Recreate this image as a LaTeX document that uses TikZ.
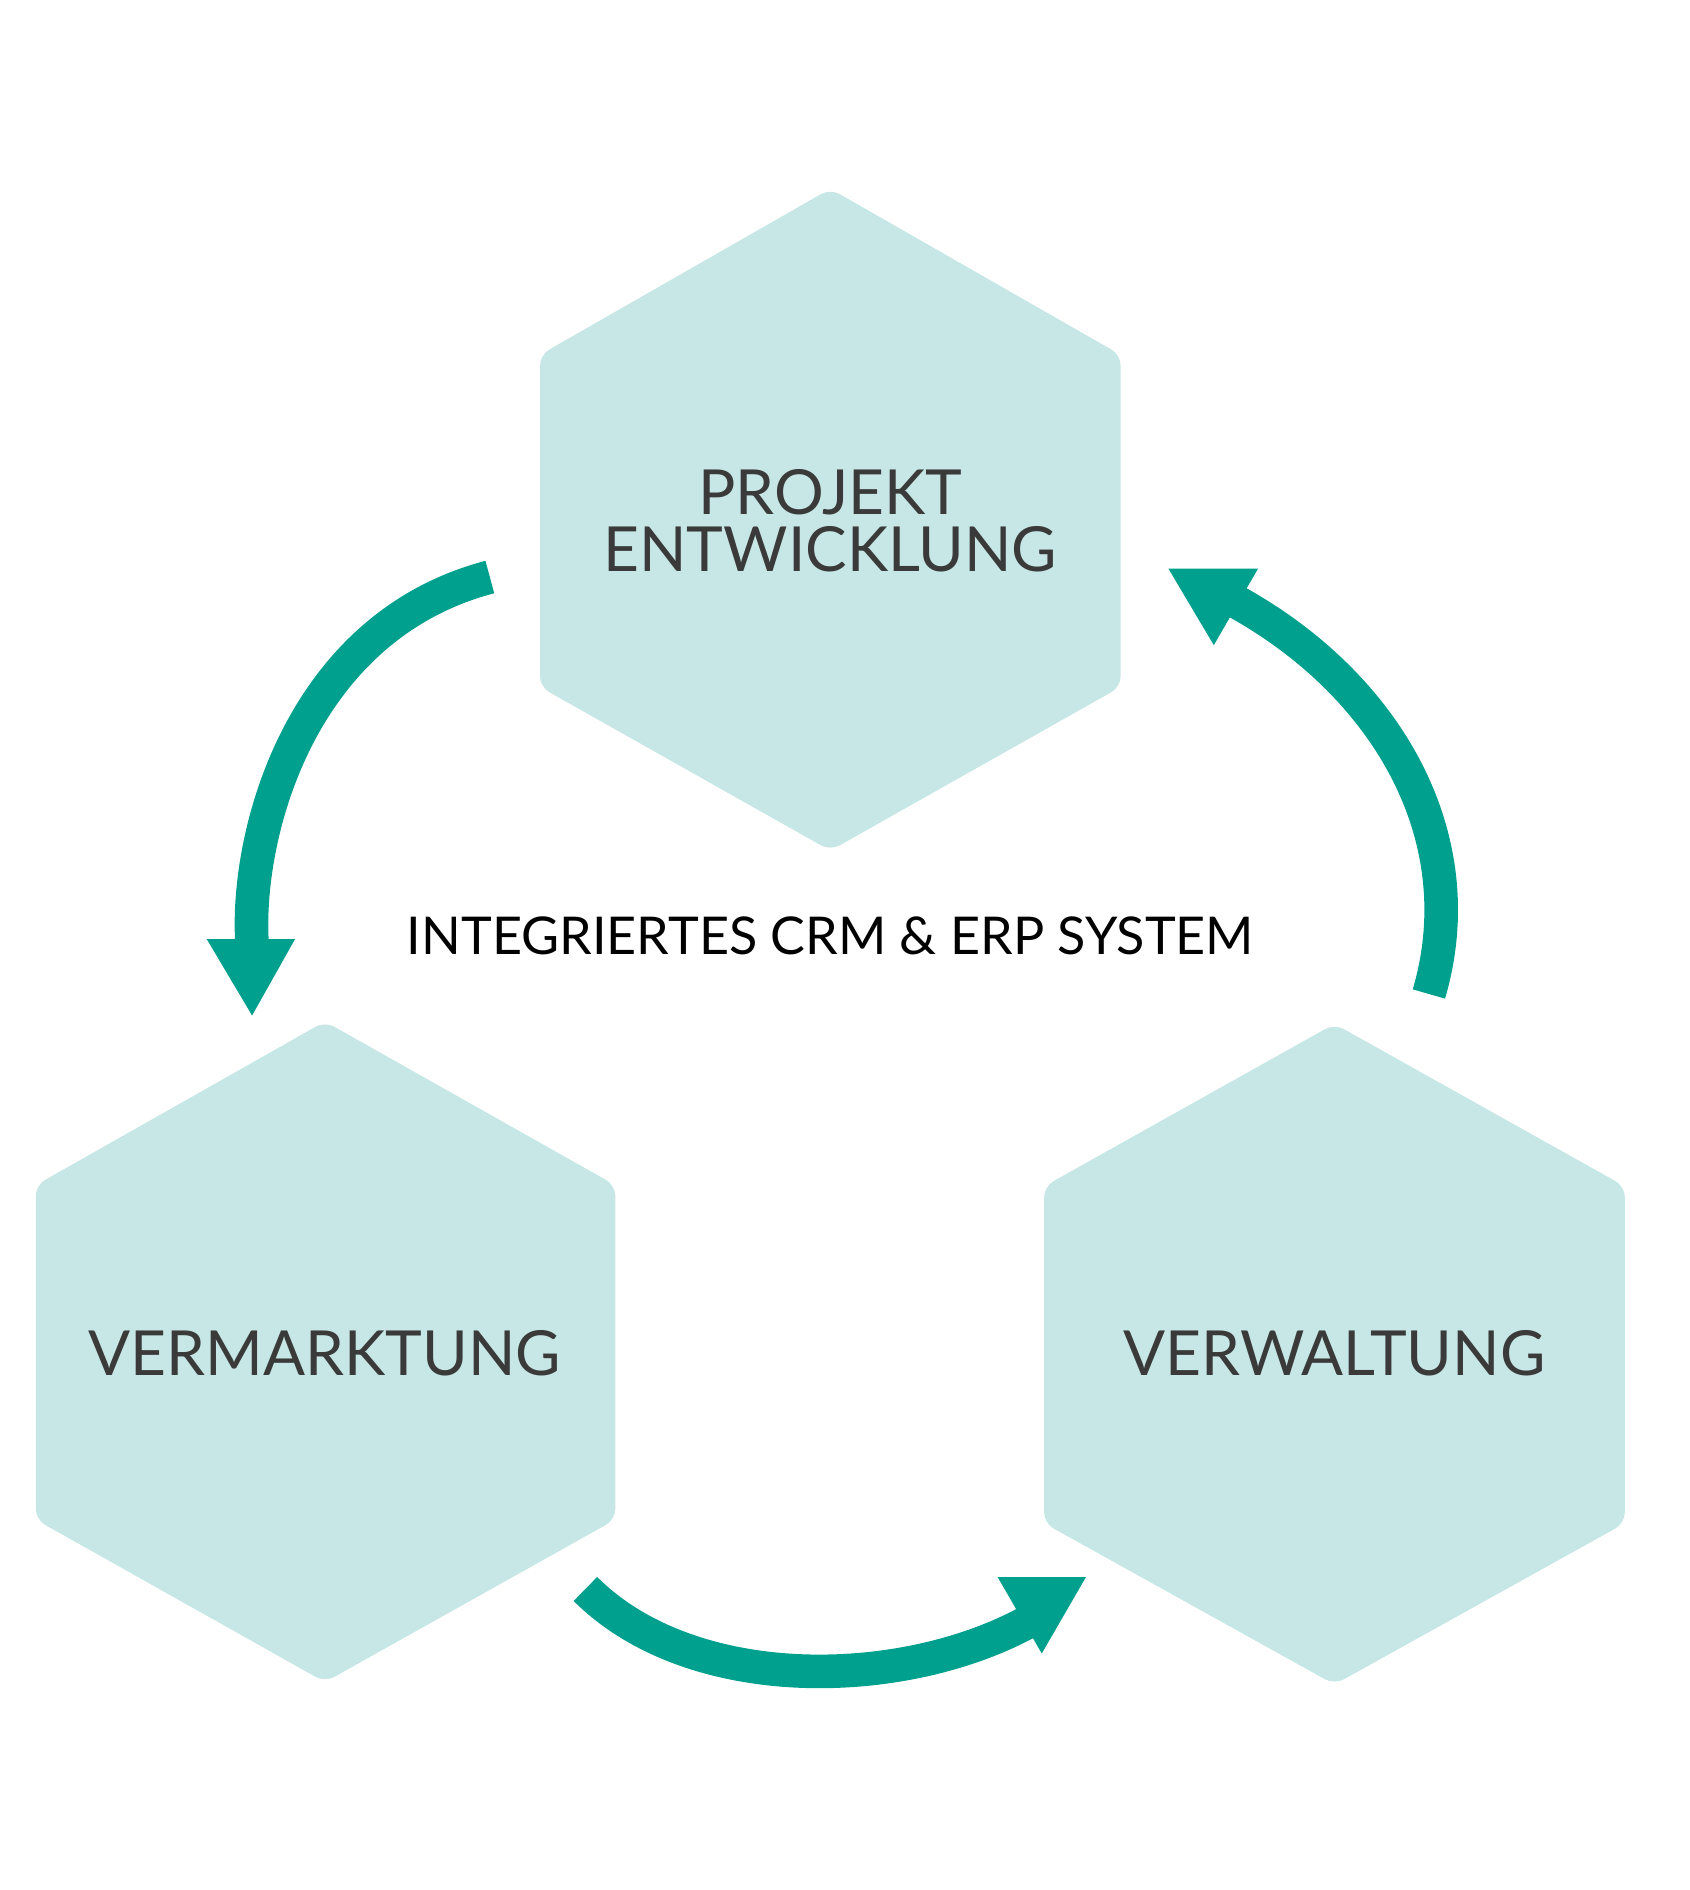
\documentclass[tikz,border=0pt]{standalone}
\usepackage{fontspec}
\setmainfont{Lato}
\begin{document}
\begin{tikzpicture}[x=0.01cm,y=-0.01cm,
  hex/.style={fill=hexfill,rounded corners=2.5pt},
  lbl/.style={text=txt,font=\fontsize{14.8}{13.7}\selectfont,align=center},
  arr/.style={draw=teal1,line width=8pt},
  head/.style={fill=teal1}]
\definecolor{hexfill}{HTML}{C6E7E5}
\definecolor{teal1}{HTML}{00A08E}
\definecolor{txt}{HTML}{3A3A3A}
\useasboundingbox (0,0) rectangle (1414,1582);
\fill[hex] (695,158)--(938,297)--(938,575)--(695,712)--(452,575)--(452,297)--cycle;
\fill[hex] (272,855)--(515,992)--(515,1272)--(272,1408)--(30,1272)--(30,992)--cycle;
\fill[hex] (1117,857)--(1360,993)--(1360,1275)--(1117,1410)--(874,1275)--(874,993)--cycle;
\node[lbl] (pe) at (695,436) {PROJEKT\\ENTWICKLUNG};
\node[lbl] (vm) at (272,1133) {VERMARKTUNG};
\node[lbl] (vw) at (1117,1133) {VERWALTUNG};
\node[text=black,font=\fontsize{12.4}{14}\selectfont] (c) at (695,783) {INTEGRIERTES CRM \& ERP SYSTEM};
\draw[arr] (410,483) .. controls (250,525) and (205,700) .. (211,790);
\fill[head] (173,786)--(247,786)--(211,850)--cycle;
\draw[arr] (1196,832) .. controls (1235,700) and (1160,570) .. (1028,500);
\fill[head] (978,476)--(1053,476)--(1016,540)--cycle;
\draw[arr] (490,1330) .. controls (580,1420) and (760,1415) .. (865,1355);
\fill[head] (835,1320)--(909,1320)--(872,1384)--cycle;
\end{tikzpicture}
\end{document}
